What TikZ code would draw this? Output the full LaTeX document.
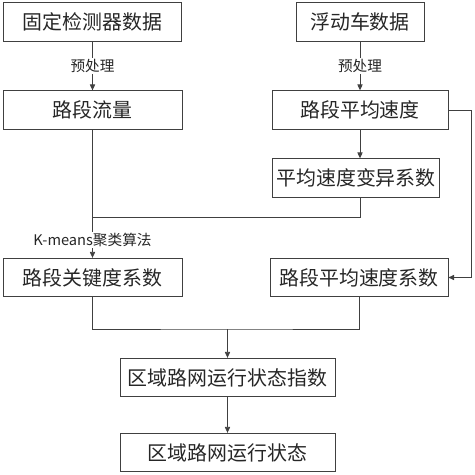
\documentclass[tikz,border=0pt]{standalone}
\usepackage{fontspec}
\setmainfont{Noto Sans CJK SC}
\usetikzlibrary{arrows.meta}

\begin{document}
\begin{tikzpicture}[x=0.03cm, y=-0.03cm,
  box/.style={draw=black!75, line width=0.6pt, minimum height=1.16cm, inner sep=0pt, font=\fontsize{17}{20}\selectfont, text=black!85},
  link/.style={draw=black!75, line width=0.6pt},
  arr/.style={link, -{Triangle[length=5pt, width=4.5pt]}},
  tag/.style={fill=white, inner sep=1pt, font=\fontsize{12.5}{15}\selectfont, text=black!85}]
  \useasboundingbox (0,0) rectangle (474,475);

  % data sources
  \node[box, minimum width=5.34cm] (fixed) at (92.5,22) {固定检测器数据};
  \node[box, minimum width=3.84cm] (floating) at (360,22) {浮动车数据};

  % preprocessed quantities
  \node[box, minimum width=5.37cm] (flow) at (92.5,110) {路段流量};
  \node[box, minimum width=5.28cm] (avgspd) at (360,110) {路段平均速度};
  \node[box, minimum width=5.01cm] (cv) at (356,178) {平均速度变异系数};

  % coefficients
  \node[box, minimum width=5.37cm] (keycoef) at (92.5,277.5) {路段关键度系数};
  \node[box, minimum width=5.34cm] (spdcoef) at (359,277.5) {路段平均速度系数};

  % result
  \node[box, minimum width=6.45cm] (index) at (227.5,377.5) {区域路网运行状态指数};
  \node[box, minimum width=6.45cm] (state) at (227.5,452.5) {区域路网运行状态};

  \coordinate (join) at (92.5,217);
  \coordinate (merge) at (227.5,329);

  % arrows
  \draw[arr] (fixed) -- node[tag] {预处理} (flow);
  \draw[arr] (floating) -- node[tag] {预处理} (avgspd);
  \draw[arr] (avgspd) -- (avgspd |- cv.north);
  \draw[link] (cv.south -| avgspd) |- (join);
  \draw[arr] (flow) -- node[tag, pos=0.86] {K-means聚类算法} (keycoef);
  \draw[arr] (avgspd.east) -- ++(23,0) |- (spdcoef.east);
  \draw[link] (keycoef) |- (merge) -| (spdcoef);
  \draw[arr] (merge) -- (index);
  \draw[arr] (index) -- (state);
\end{tikzpicture}
\end{document}
